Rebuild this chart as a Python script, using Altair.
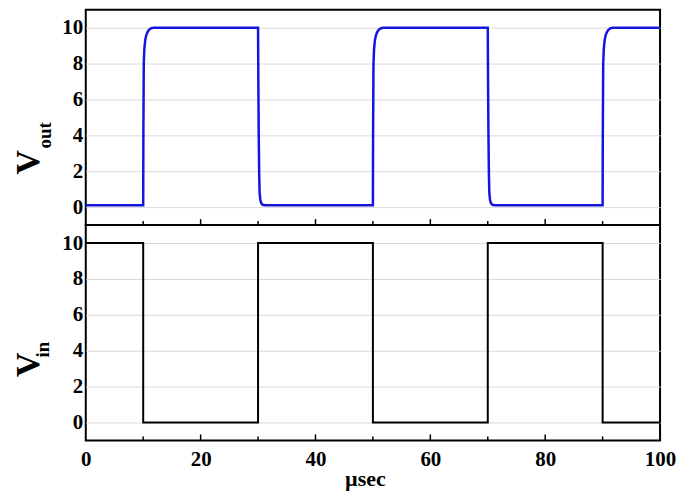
import altair as alt
import pandas as pd

# ---- data ----
t_in = [0, 10, 10, 30, 30, 50, 50, 70, 70, 90, 90, 100]
v_in = [10, 10, 0, 0, 10, 10, 0, 0, 10, 10, 0, 0]

t_out = [0, 10.0, 10.03, 10.1, 10.2, 10.35, 10.55, 10.75, 11.0, 11.4, 11.8,
         30.0, 30.05, 30.12, 30.2, 30.27, 30.4, 30.55, 30.8, 31.2,
         50.0, 50.03, 50.1, 50.2, 50.35, 50.55, 50.75, 51.0, 51.4, 51.8,
         70.0, 70.05, 70.12, 70.2, 70.27, 70.4, 70.55, 70.8, 71.2,
         90.0, 90.03, 90.1, 90.2, 90.35, 90.55, 90.75, 91.0, 91.4, 91.8,
         100]
v_out = [0.1, 0.1, 4.0, 8.0, 8.8, 9.3, 9.6, 9.75, 9.88, 9.97, 10.0,
         10.0, 7.0, 4.0, 1.8, 0.8, 0.4, 0.22, 0.13, 0.1,
         0.1, 4.0, 8.0, 8.8, 9.3, 9.6, 9.75, 9.88, 9.97, 10.0,
         10.0, 7.0, 4.0, 1.8, 0.8, 0.4, 0.22, 0.13, 0.1,
         0.1, 4.0, 8.0, 8.8, 9.3, 9.6, 9.75, 9.88, 9.97, 10.0,
         10.0]

x_labels = [0, 20, 40, 60, 80, 100]
y_labels = [0, 2, 4, 6, 8, 10]
major_ticks = [20, 40, 60, 80]
minor_ticks = [10, 30, 50, 70, 90]
x_title = "µsec"
top_title = ["V", "out"]
bottom_title = ["V", "in"]

FONT = "Liberation Serif, Times New Roman, serif"
W, H = 576, 216

df_in = pd.DataFrame({"t": t_in, "v": v_in})
df_out = pd.DataFrame({"t": t_out, "v": v_out})
df_major = pd.DataFrame({"t": major_ticks})
df_minor = pd.DataFrame({"t": minor_ticks})

xscale = alt.Scale(domain=[0, 100], nice=False, zero=False)
yscale = alt.Scale(domain=[-1, 11], nice=False, zero=False)

yaxis = alt.Axis(values=y_labels, title=None, domain=False, ticks=False, tickSize=0,
                 grid=True, gridColor="#d9d9d9", gridWidth=1,
                 labelFont=FONT, labelFontWeight="bold", labelFontSize=21,
                 labelColor="black", labelPadding=3)
xaxis_bottom = alt.Axis(values=x_labels, title=x_title, domain=False, ticks=False, tickSize=0,
                        grid=False, labelFont=FONT, labelFontWeight="bold",
                        labelFontSize=21, labelColor="black", labelPadding=8,
                        labelFlush=False,
                        titleFont=FONT, titleFontWeight="bold", titleFontSize=22,
                        titleColor="black", titleBaseline="alphabetic",
                        titleX=280, titleY=45)


def ticks_layers():
    major = alt.Chart(df_major).mark_rule(color="black", strokeWidth=1.5).encode(
        x=alt.X("t:Q", scale=xscale), y=alt.value(H), y2=alt.value(H - 6))
    minor = alt.Chart(df_minor).mark_rule(color="black", strokeWidth=1.5).encode(
        x=alt.X("t:Q", scale=xscale), y=alt.value(H), y2=alt.value(H - 4))
    return [major, minor]


def title_layers(texts, main_y, sub_y, sub_x):
    main = alt.Chart(pd.DataFrame({"s": [texts[0]]})).mark_text(
        font=FONT, fontWeight="bold", fontSize=34, angle=270,
        align="center", baseline="alphabetic", color="black").encode(
        text="s:N", x=alt.value(-47), y=alt.value(main_y))
    sub = alt.Chart(pd.DataFrame({"s": [texts[1]]})).mark_text(
        font=FONT, fontWeight="bold", fontSize=19, angle=270,
        align="center", baseline="alphabetic", color="black").encode(
        text="s:N", x=alt.value(sub_x), y=alt.value(sub_y))
    return [main, sub]


top_line = alt.Chart(df_out).mark_line(color="#1515e0", strokeWidth=2.5).encode(
    x=alt.X("t:Q", scale=xscale, axis=None),
    y=alt.Y("v:Q", scale=yscale, axis=yaxis),
)
top = alt.layer(top_line, *ticks_layers(), *title_layers(top_title, 153, 126, -35)).properties(
    width=W, height=H)

bottom_line = alt.Chart(df_in).mark_line(color="black", strokeWidth=2).encode(
    x=alt.X("t:Q", scale=xscale, axis=xaxis_bottom),
    y=alt.Y("v:Q", scale=yscale, axis=yaxis),
)
bottom = alt.layer(bottom_line, *ticks_layers(), *title_layers(bottom_title, 140, 125, -37)).properties(
    width=W, height=H)

chart = alt.vconcat(top, bottom, spacing=0, bounds="flush").properties(
    padding={"left": 3, "top": 0, "right": 0, "bottom": 0}
).configure_view(stroke="black", strokeWidth=2)

chart.save("out.html", embed_options={"renderer": "svg", "actions": False})
